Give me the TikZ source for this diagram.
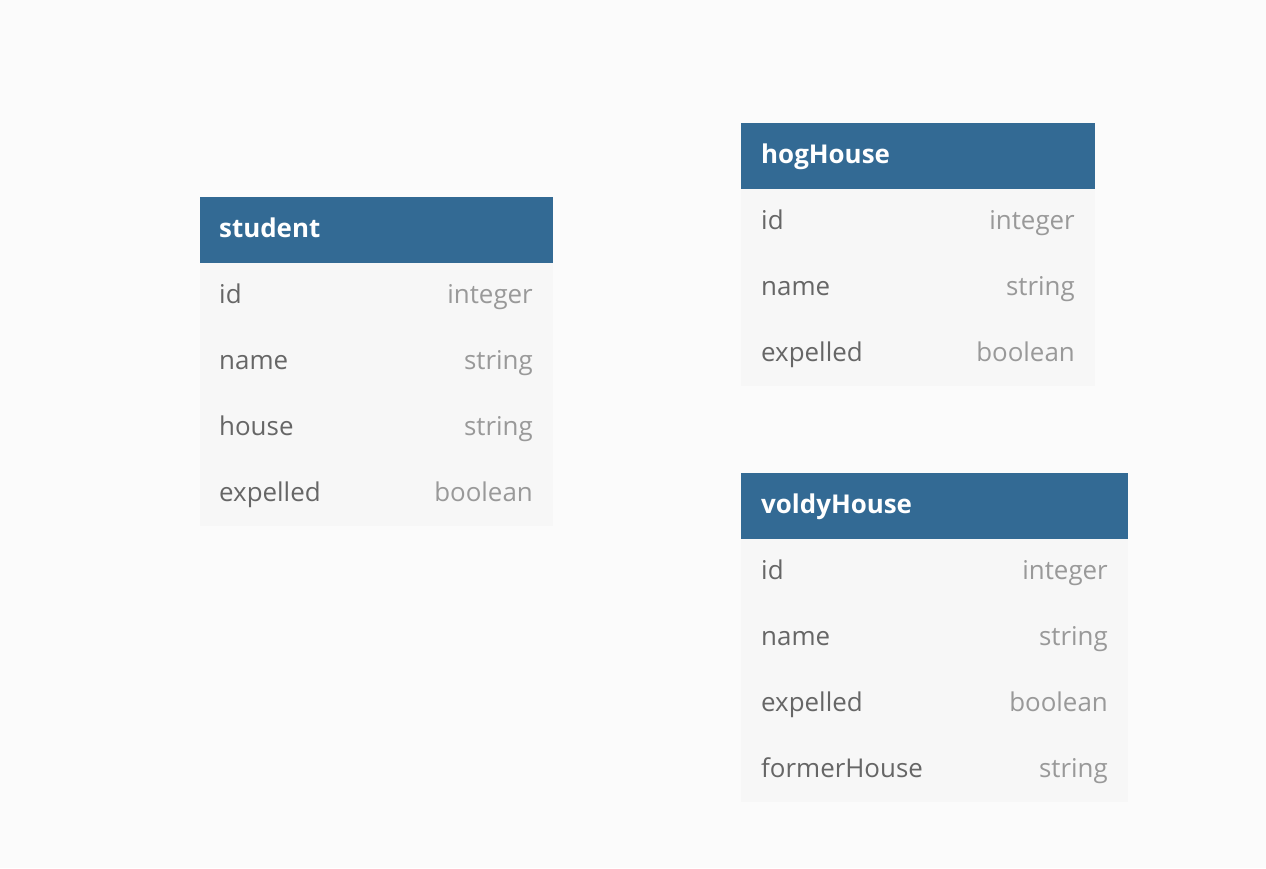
\documentclass[tikz,border=0pt]{standalone}
\usepackage{fontspec}
\setmainfont{Open Sans}
\definecolor{pagebg}{RGB}{251,251,251}
\definecolor{headblue}{RGB}{51,106,148}
\definecolor{rowgrey}{RGB}{247,247,247}
\definecolor{fieldgrey}{RGB}{102,102,102}
\definecolor{typegrey}{RGB}{153,153,153}
\begin{document}
\begin{tikzpicture}[
    x=1pt,
    y=-1pt,
    font=\fontsize{25.9}{30}\selectfont,
    headbox/.style={rectangle, fill=headblue, anchor=north west, inner sep=0pt, minimum height=66pt},
    bodybox/.style={rectangle, fill=rowgrey, anchor=north west, inner sep=0pt},
    title/.style={anchor=base west, inner sep=0pt, text=white, font=\fontsize{25.9}{30}\selectfont\bfseries},
    field/.style={anchor=base west, inner sep=0pt, text=fieldgrey},
    ftype/.style={anchor=base east, inner sep=0pt, text=typegrey}
]

% Page
\fill[pagebg] (0,0) rectangle (1266,868);
\useasboundingbox (0,0) rectangle (1266,868);

% student table
\node[headbox, minimum width=353pt] (studenthead) at (200,197) {};
\node[bodybox, minimum width=353pt, minimum height=263pt] (studentbody) at (200,263) {};
\node[title] (studenttitle) at (219,237.5) {student};
\node[field] (studentid) at (219,303) {id};
\node[ftype] (studentidtype) at (533,303) {integer};
\node[field] (studentname) at (219,369) {name};
\node[ftype] (studentnametype) at (533,369) {string};
\node[field] (studenthouse) at (219,435) {house};
\node[ftype] (studenthousetype) at (533,435) {string};
\node[field] (studentexpelled) at (219,501) {expelled};
\node[ftype] (studentexpelledtype) at (533,501) {boolean};

% hogHouse table
\node[headbox, minimum width=354pt] (hoghead) at (741,123) {};
\node[bodybox, minimum width=354pt, minimum height=197pt] (hogbody) at (741,189) {};
\node[title] (hogtitle) at (761,163.5) {hogHouse};
\node[field] (hogid) at (761,229) {id};
\node[ftype] (hogidtype) at (1075,229) {integer};
\node[field] (hogname) at (761,295) {name};
\node[ftype] (hognametype) at (1075,295) {string};
\node[field] (hogexpelled) at (761,361) {expelled};
\node[ftype] (hogexpelledtype) at (1075,361) {boolean};

% voldyHouse table
\node[headbox, minimum width=387pt] (voldyhead) at (741,473) {};
\node[bodybox, minimum width=387pt, minimum height=263pt] (voldybody) at (741,539) {};
\node[title] (voldytitle) at (761,513.5) {voldyHouse};
\node[field] (voldyid) at (761,579) {id};
\node[ftype] (voldyidtype) at (1108,579) {integer};
\node[field] (voldyname) at (761,645) {name};
\node[ftype] (voldynametype) at (1108,645) {string};
\node[field] (voldyexpelled) at (761,711) {expelled};
\node[ftype] (voldyexpelledtype) at (1108,711) {boolean};
\node[field] (voldyformer) at (761,777) {formerHouse};
\node[ftype] (voldyformertype) at (1108,777) {string};

\end{tikzpicture}
\end{document}
